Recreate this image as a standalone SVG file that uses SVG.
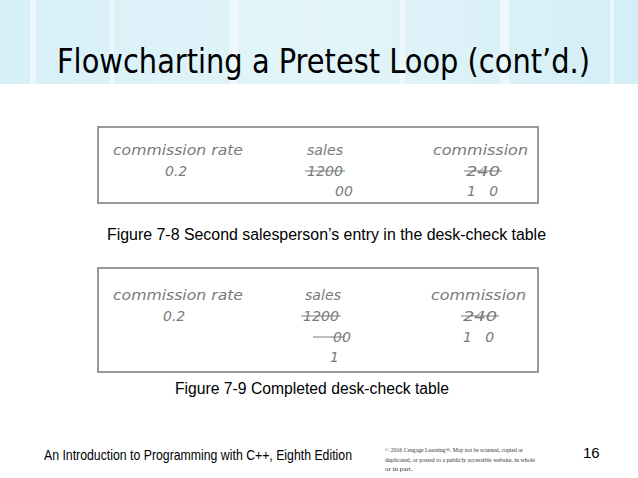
<svg xmlns="http://www.w3.org/2000/svg" width="638" height="478" viewBox="0 0 638 478">
<style>
.hw{font-family:"DejaVu Sans",sans-serif;font-style:italic;font-size:14px;fill:#7a7a7a;font-weight:300}
.st{stroke:#7a7a7a;stroke-width:1}
.box{fill:#fff;stroke:#999;stroke-width:2}
.cap{font-family:"Liberation Sans",Arial,sans-serif;font-size:16px;fill:#000}
</style>
<defs>
<linearGradient id="band" x1="0" y1="0" x2="1" y2="0">
<stop offset="0" stop-color="#d6f0f7"/><stop offset="0.5" stop-color="#e3f5fa"/><stop offset="1" stop-color="#d3eef6"/>
</linearGradient>
</defs>
<rect width="638" height="478" fill="#fff"/>
<rect width="638" height="84" fill="url(#band)"/>
<g opacity="0.5" fill="#fff">
<rect x="30" y="0" width="6" height="84"/><rect x="110" y="0" width="4" height="84"/><rect x="230" y="0" width="8" height="84"/><rect x="400" y="0" width="5" height="84"/><rect x="500" y="0" width="9" height="84"/><rect x="610" y="0" width="4" height="84"/>
</g>
<text x="57" y="73" font-family="DejaVu Sans Condensed, DejaVu Sans, sans-serif" font-size="34" textLength="533" lengthAdjust="spacingAndGlyphs" fill="#000">Flowcharting a Pretest Loop (cont’d.)</text>

<g id="table1">
<rect class="box" x="98" y="127" width="440" height="76"/>
<text class="hw" x="113" y="155" textLength="130" lengthAdjust="spacingAndGlyphs">commission rate</text>
<text class="hw" x="307" y="155" textLength="36" lengthAdjust="spacingAndGlyphs">sales</text>
<text class="hw" x="433" y="155" textLength="95" lengthAdjust="spacingAndGlyphs">commission</text>
<text class="hw" x="165" y="176">0.2</text>
<text class="hw" x="307" y="176" textLength="36" lengthAdjust="spacingAndGlyphs">1200</text>
<line class="st" x1="305" y1="171" x2="345" y2="171"/>
<text class="hw" x="466" y="176" textLength="34" lengthAdjust="spacingAndGlyphs">240</text>
<line class="st" x1="464" y1="171" x2="502" y2="171"/>
<text class="hw" x="335" y="196">00</text>
<text class="hw" x="467" y="196" xml:space="preserve">1   0</text>
</g>
<text class="cap" x="107" y="240" textLength="439" lengthAdjust="spacingAndGlyphs">Figure 7-8 Second salesperson’s entry in the desk-check table</text>

<g id="table2">
<rect class="box" x="98" y="268" width="440" height="104"/>
<text class="hw" x="113" y="300" textLength="130" lengthAdjust="spacingAndGlyphs">commission rate</text>
<text class="hw" x="305" y="300" textLength="36" lengthAdjust="spacingAndGlyphs">sales</text>
<text class="hw" x="431" y="300" textLength="95" lengthAdjust="spacingAndGlyphs">commission</text>
<text class="hw" x="163" y="321">0.2</text>
<text class="hw" x="303" y="321" textLength="36" lengthAdjust="spacingAndGlyphs">1200</text>
<line class="st" x1="301" y1="316" x2="341" y2="316"/>
<text class="hw" x="463" y="321" textLength="34" lengthAdjust="spacingAndGlyphs">240</text>
<line class="st" x1="461" y1="316" x2="499" y2="316"/>
<line class="st" x1="313" y1="337" x2="345" y2="337"/>
<text class="hw" x="333" y="342">00</text>
<text class="hw" x="463" y="342" xml:space="preserve">1   0</text>
<text class="hw" x="330" y="362">1</text>
</g>
<text class="cap" x="175" y="394" textLength="274" lengthAdjust="spacingAndGlyphs">Figure 7-9 Completed desk-check table</text>

<text x="44" y="460" font-family="Liberation Sans, Arial, sans-serif" font-size="15" textLength="308" lengthAdjust="spacingAndGlyphs">An Introduction to Programming with C++, Eighth Edition</text>
<g font-family="Liberation Serif, Times New Roman, serif" font-size="7" fill="#333">
<text x="385" y="452" textLength="138" lengthAdjust="spacingAndGlyphs">© 2016 Cengage Learning®. May not be scanned, copied or</text>
<text x="385" y="461.5" textLength="150" lengthAdjust="spacingAndGlyphs">duplicated, or posted to a publicly accessible website, in whole</text>
<text x="385" y="471">or in part.</text>
</g>
<text x="583" y="458" font-family="Liberation Sans, Arial, sans-serif" font-size="15">16</text>
</svg>
